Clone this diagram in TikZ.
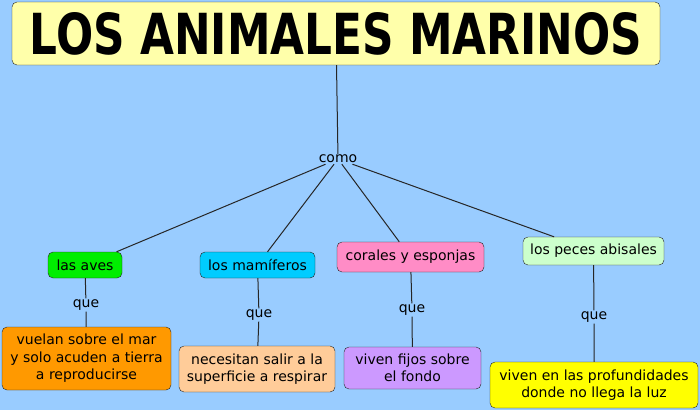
\documentclass[tikz,border=0pt]{standalone}
\usepackage{fontspec}
\setmainfont{DejaVu Sans}
\usepackage{graphicx}

\definecolor{fondo}{HTML}{99CCFF}
\definecolor{titulo}{HTML}{FFFFAA}
\definecolor{aves}{HTML}{00EE00}
\definecolor{mamif}{HTML}{00CCFF}
\definecolor{corales}{HTML}{FF8CC6}
\definecolor{peces}{HTML}{CCFFCC}
\definecolor{vuelan}{HTML}{FF9900}
\definecolor{respirar}{HTML}{FFCC99}
\definecolor{fijos}{HTML}{CC99FF}
\definecolor{luz}{HTML}{FFFF00}

\tikzset{
    concepto/.style={draw=black!85, rounded corners=5pt, align=center, inner sep=2pt,
        font=\fontsize{14}{17.5}\selectfont},
    enlace/.style={inner sep=1pt, font=\fontsize{14}{16}\selectfont},
    linea/.style={draw=black!85, line width=1pt}
}

\begin{document}
\begin{tikzpicture}[x=1pt, y=-1pt]
        % Background
        \fill[fondo] (0,0) rectangle (700,410);
        \useasboundingbox (0,0) rectangle (700,410);

        % Title
        \node[concepto, fill=titulo, minimum width=648pt, minimum height=63pt] (titulo) at (336,33.5)
            {\resizebox{612pt}{42pt}{\bfseries LOS ANIMALES MARINOS}};
        \node[enlace] (como) at (338,159) {como};

        % Groups of animals
        \node[concepto, fill=aves, minimum width=74pt, minimum height=26pt] (aves) at (85,265) {las aves};
        \node[concepto, fill=mamif, minimum width=115pt, minimum height=26pt] (mamif) at (257.5,265) {los mamíferos};
        \node[concepto, fill=corales, minimum width=147pt, minimum height=30pt] (corales) at (410.5,257) {corales y esponjas};
        \node[concepto, fill=peces, minimum width=141pt, minimum height=28pt] (peces) at (593.5,251) {los peces abisales};

        % Linking words
        \node[enlace] (que1) at (86,305) {que};
        \node[enlace] (que2) at (259,315) {que};
        \node[enlace] (que3) at (412,310) {que};
        \node[enlace] (que4) at (594,317) {que};

        % Descriptions
        \node[concepto, fill=vuelan, minimum width=169pt, minimum height=63pt] (vuelan) at (86.5,358.5)
            {vuelan sobre el mar\\y solo acuden a tierra\\a reproducirse};
        \node[concepto, fill=respirar, minimum width=156pt, minimum height=46pt] (respirar) at (257,369)
            {necesitan salir a la\\superficie a respirar};
        \node[concepto, fill=fijos, minimum width=137pt, minimum height=42pt] (fijos) at (412.5,368)
            {viven fijos sobre\\el fondo};
        \node[concepto, fill=luz, minimum width=208pt, minimum height=46pt] (luz) at (594,385)
            {viven en las profundidades\\donde no llega la luz};

        % Connectors
        \draw[linea] (titulo) -- (como);
        \foreach \grupo in {aves, mamif, corales, peces}
            \draw[linea] (como) -- (\grupo);
        \draw[linea] (aves) -- (que1) -- (vuelan);
        \draw[linea] (mamif) -- (que2) -- (respirar);
        \draw[linea] (corales) -- (que3) -- (fijos);
        \draw[linea] (peces) -- (que4) -- (luz);
    \end{tikzpicture}
\end{document}
